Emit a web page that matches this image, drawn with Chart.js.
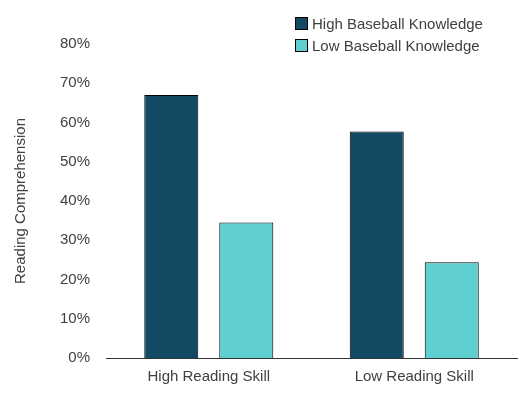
<!DOCTYPE html>
<html>
<head>
<script src="https://cdn.jsdelivr.net/npm/chart.js@4"></script>
<style>
  body { margin: 0; background: #fff; font-family: "Liberation Sans", Arial, sans-serif; }
  #wrap { position: relative; width: 521px; height: 402px; }
  #legend { position: absolute; left: 295px; top: 12px; font-size: 15px; color: #404040; }
  .item { display: flex; align-items: center; height: 22px; }
  .box { width: 11px; height: 11px; border: 1px solid #000; margin-right: 4px; }
</style>
</head>
<body>
<div id="wrap">
  <canvas id="chart" width="521" height="402"></canvas>
  <div id="legend"></div>
</div>
<script>
const categories = ['High Reading Skill', 'Low Reading Skill'];
const seriesNames = ['High Baseball Knowledge', 'Low Baseball Knowledge'];
const highKnowledge = [0.67, 0.577];
const lowKnowledge = [0.345, 0.244];
const colors = ['#134a63', '#5fcfcf'];

document.getElementById('legend').innerHTML = seriesNames.map((name, i) =>
  `<div class="item"><span class="box" style="background:${colors[i]}"></span>${name}</div>`
).join('');

new Chart(document.getElementById('chart').getContext('2d'), {
  type: 'bar',
  data: {
    labels: categories,
    datasets: [highKnowledge, lowKnowledge].map((data, i) => ({
      label: seriesNames[i],
      data,
      backgroundColor: colors[i],
      borderColor: '#000',
      borderWidth: 1,
      categoryPercentage: 0.73,
      barPercentage: 0.72
    }))
  },
  options: {
    responsive: false,
    animation: false,
    layout: { padding: { top: 44, right: 4, bottom: 6, left: 8 } },
    plugins: { legend: { display: false }, tooltip: { enabled: false } },
    scales: {
      x: {
        grid: { display: false, drawTicks: false },
        border: { color: '#333', width: 1 },
        ticks: { color: '#404040', font: { family: 'Liberation Sans', size: 15 }, padding: 10 }
      },
      y: {
        min: 0, max: 0.8,
        grid: { display: false, drawTicks: false },
        border: { display: false },
        ticks: {
          stepSize: 0.1,
          color: '#404040',
          padding: 16,
          font: { family: 'Liberation Sans', size: 15 },
          callback: v => Math.round(v * 100) + '%'
        },
        title: {
          display: true,
          text: 'Reading Comprehension',
          color: '#404040',
          font: { family: 'Liberation Sans', size: 15 },
          padding: { bottom: 14 }
        }
      }
    }
  }
});
</script>
</body>
</html>
